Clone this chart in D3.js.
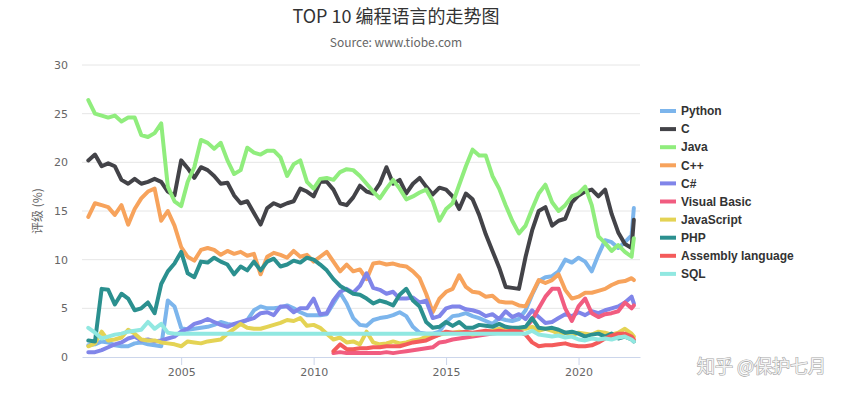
<!DOCTYPE html>
<html>
<head>
<meta charset="utf-8">
<script src="https://cdn.jsdelivr.net/npm/d3@7"></script>
<style>
  body { margin: 0; background: #fff; }
  #chart svg { display: block; }
</style>
</head>
<body>
<div id="chart"></div>
<script>
// quarterly samples (last point = Feb 2022)
const dates = [
    "2001-07", "2001-10",
    "2002-01", "2002-04", "2002-07", "2002-10",
    "2003-01", "2003-04", "2003-07", "2003-10",
    "2004-01", "2004-04", "2004-07", "2004-10",
    "2005-01", "2005-04", "2005-07", "2005-10",
    "2006-01", "2006-04", "2006-07", "2006-10",
    "2007-01", "2007-04", "2007-07", "2007-10",
    "2008-01", "2008-04", "2008-07", "2008-10",
    "2009-01", "2009-04", "2009-07", "2009-10",
    "2010-01", "2010-04", "2010-07", "2010-10",
    "2011-01", "2011-04", "2011-07", "2011-10",
    "2012-01", "2012-04", "2012-07", "2012-10",
    "2013-01", "2013-04", "2013-07", "2013-10",
    "2014-01", "2014-04", "2014-07", "2014-10",
    "2015-01", "2015-04", "2015-07", "2015-10",
    "2016-01", "2016-04", "2016-07", "2016-10",
    "2017-01", "2017-04", "2017-07", "2017-10",
    "2018-01", "2018-04", "2018-07", "2018-10",
    "2019-01", "2019-04", "2019-07", "2019-10",
    "2020-01", "2020-04", "2020-07", "2020-10",
    "2021-01", "2021-04", "2021-07", "2021-10",
    "2022-01", "2022-02"
];

const python = [
    1.2, 1.3,
    1.6, 1.5, 1.2, 1.1,
    1.1, 1.4, 1.5, 1.3,
    1.2, 1.1, 5.8, 5.2,
    3.0, 2.8, 2.9, 3.0,
    3.1, 3.3, 3.6, 3.4,
    3.3, 3.5, 3.8, 4.8,
    5.2, 5.0, 5.0, 5.1,
    5.3, 5.0, 4.6, 4.3,
    4.3, 4.3, 4.4, 5.5,
    6.6, 5.5, 4.0, 3.3,
    3.2, 3.8, 4.0, 4.1,
    4.3, 4.6, 4.2, 3.1,
    2.5, 2.4, 2.4, 2.6,
    3.6, 4.2, 4.3, 4.5,
    4.2, 4.0, 3.7, 3.4,
    4.0, 3.8, 3.7, 3.9,
    4.8, 6.4, 7.8, 8.2,
    8.3, 8.8, 10.0, 9.7,
    10.2, 9.8, 8.8, 10.5,
    12.0, 11.8, 11.2, 11.8,
    12.5, 15.3
];

const cLang = [
    20.2, 20.8,
    19.6, 19.9, 19.6, 18.2,
    17.8, 18.3, 17.8, 18.0,
    18.3, 18.0, 17.0, 16.6,
    20.2, 19.4, 18.4, 19.5,
    19.2, 18.6, 17.8, 17.9,
    16.6, 15.8, 16.0, 14.8,
    13.6, 15.3, 15.8, 15.5,
    15.8, 16.0, 17.3, 17.0,
    16.5, 18.0, 18.0, 17.2,
    15.8, 15.6, 16.4, 17.6,
    17.0, 16.8, 17.8, 19.5,
    17.8, 18.2, 16.8, 17.8,
    18.4, 17.5, 16.7, 17.4,
    17.2, 16.5, 15.2, 16.8,
    16.2, 14.6, 12.6, 10.9,
    9.2, 7.2, 7.1, 7.0,
    10.3, 13.0, 15.0, 15.4,
    13.5, 14.0, 14.2, 15.9,
    16.6, 17.0, 17.2, 16.5,
    17.2, 14.7, 12.8, 11.6,
    11.2, 14.1
];

const java = [
    26.4, 25.0,
    24.8, 24.6, 24.8, 24.2,
    24.6, 24.6, 22.8, 22.6,
    23.0, 24.0, 17.5, 16.0,
    15.5, 18.0, 19.5, 22.3,
    22.0, 21.4, 22.0, 20.2,
    18.8, 19.2, 21.5, 21.0,
    20.8, 21.2, 21.2, 20.5,
    18.6, 19.8, 20.2, 18.0,
    17.3, 18.3, 18.4, 18.2,
    19.0, 19.3, 19.2, 18.6,
    17.8, 17.0, 16.3, 17.3,
    18.2, 17.3, 16.2, 16.5,
    16.9, 17.2, 16.0, 14.0,
    15.2, 15.8, 17.7, 19.6,
    21.3, 20.7, 20.7, 18.6,
    17.3, 15.6, 14.0, 12.7,
    13.5, 15.2, 16.8, 17.7,
    15.9, 15.0, 15.6, 16.5,
    16.8, 17.5, 15.6, 12.4,
    11.7, 10.9, 11.5, 10.8,
    10.3, 12.2
];

const cpp = [
    14.4, 15.8,
    15.6, 15.4, 14.6, 15.6,
    13.6, 15.2, 16.3, 17.0,
    17.3, 14.0, 15.0, 13.5,
    11.3, 10.3, 9.9, 11.0,
    11.2, 11.0, 10.5, 10.9,
    10.6, 10.8, 10.4, 10.6,
    8.5, 10.3, 10.7, 10.5,
    10.2, 10.9, 10.3, 10.5,
    9.8, 10.3, 10.8, 9.8,
    8.8, 9.5, 8.8, 9.0,
    8.0, 9.6, 9.7, 9.5,
    9.6, 9.4, 9.3, 8.8,
    8.1, 6.5, 4.6, 6.0,
    6.7, 7.0, 8.4, 7.2,
    6.7, 6.6, 6.2, 6.3,
    5.7, 5.6, 5.6, 5.3,
    5.2, 6.5, 7.9, 7.6,
    7.9, 8.5, 6.9, 6.0,
    6.2, 6.6, 6.6, 6.8,
    7.0, 7.4, 7.7, 7.8,
    8.1, 7.9
];

const csharp = [
    0.5, 0.5,
    0.7, 1.0, 1.3, 1.5,
    1.9, 2.1, 1.7, 1.8,
    1.6, 1.7, 1.9, 2.1,
    2.6, 2.9, 3.4, 3.6,
    3.9, 3.6, 3.3, 3.1,
    3.4, 3.6, 3.8, 4.0,
    4.5, 4.6, 4.3, 5.2,
    5.2, 4.6, 5.0, 5.0,
    6.0, 4.4, 4.5, 5.8,
    6.7, 7.0, 6.6, 7.3,
    8.6, 7.1, 6.9, 6.5,
    6.7, 6.0, 6.0, 6.1,
    5.6, 5.8, 4.0, 4.2,
    5.0, 5.2, 5.2, 4.9,
    4.8, 4.6, 4.2, 4.4,
    3.9, 4.7, 4.1, 4.4,
    3.9, 4.8, 4.1, 3.5,
    3.6, 4.0, 4.4, 4.2,
    4.6, 4.3, 4.7, 4.5,
    4.8, 5.0, 5.2, 5.6,
    6.2, 5.5
];

const visualBasic = [
    null, null,
    null, null, null, null,
    null, null, null, null,
    null, null, null, null,
    null, null, null, null,
    null, null, null, null,
    null, null, null, null,
    null, null, null, null,
    null, null, null, null,
    null, null, null, 0.4,
    0.5, 0.4, 0.4, 0.4,
    0.4, 0.4, 0.4, 0.5,
    0.4, 0.5, 0.6, 0.7,
    0.8, 0.9, 1.0, 1.5,
    1.6, 1.8, 1.9, 2.0,
    2.1, 2.2, 2.3, 2.4,
    2.5, 2.6, 2.7, 2.8,
    3.0, 3.8, 5.0, 6.2,
    7.0, 7.0, 5.0, 3.7,
    5.2, 6.0, 4.5, 4.1,
    4.4, 4.5, 4.7, 5.6,
    5.0, 5.3
];

const javascript = [
    1.1, 1.4,
    2.6, 1.7, 1.8, 2.0,
    2.8, 2.4, 1.8, 1.7,
    1.7, 1.5, 1.4, 1.3,
    1.1, 1.6, 1.5, 1.4,
    1.6, 1.7, 1.8, 2.4,
    2.9, 3.4, 3.0, 2.9,
    2.9, 3.1, 3.3, 3.5,
    3.8, 3.7, 4.0, 3.2,
    3.3, 3.0, 2.4, 1.8,
    2.0, 1.5, 1.6, 1.3,
    2.6, 1.5, 1.3, 1.4,
    1.6, 1.4, 1.5, 1.7,
    1.8, 2.1, 2.1, 2.3,
    2.4, 2.5, 2.6, 2.5,
    2.3, 2.4, 2.6, 2.7,
    2.9, 2.8, 2.8, 3.0,
    2.9, 3.1, 2.7, 2.9,
    2.7, 2.4, 2.5, 2.2,
    2.5, 2.4, 2.3, 2.6,
    2.5, 2.3, 2.5, 2.9,
    2.4, 2.1
];

const php = [
    1.7, 1.6,
    7.0, 6.9, 5.4, 6.5,
    6.0, 4.8, 5.0, 5.6,
    4.5, 7.5, 8.8, 9.6,
    10.8, 8.6, 8.2, 9.8,
    9.7, 10.2, 9.8, 9.5,
    8.5, 9.3, 8.9, 9.8,
    8.9, 9.8, 10.1, 9.3,
    9.5, 9.9, 9.7, 10.2,
    10.0, 9.5, 8.9, 8.0,
    7.3, 6.9, 6.5, 6.4,
    6.0, 5.5, 5.8, 5.6,
    5.3, 6.4, 7.0, 5.8,
    5.2, 3.6, 3.0, 3.1,
    3.6, 3.2, 3.6, 3.0,
    3.0, 3.3, 3.2, 3.1,
    3.4, 3.1, 3.0, 3.0,
    3.1, 4.0, 3.0, 2.9,
    3.0, 2.8, 2.5, 2.6,
    2.4, 2.1, 2.3, 2.4,
    2.1, 2.4, 1.9, 2.1,
    1.8, 1.6
];

const assembly = [
    null, null,
    null, null, null, null,
    null, null, null, null,
    null, null, null, null,
    null, null, null, null,
    null, null, null, null,
    null, null, null, null,
    null, null, null, null,
    null, null, null, null,
    null, null, null, 0.6,
    1.3, 0.8, 0.8, 0.9,
    0.9, 1.0, 1.0, 1.1,
    1.1, 1.1, 1.3, 1.5,
    1.6, 1.7, 2.0, 2.3,
    2.6, 2.5, 2.5, 2.6,
    2.5, 2.6, 2.7, 2.6,
    2.7, 2.6, 2.7, 2.6,
    2.3, 1.5, 1.1, 1.2,
    1.2, 1.3, 1.4, 1.2,
    1.1, 1.1, 1.2, 1.5,
    1.9, 2.2, 2.4, 2.4,
    2.1, 1.8
];

const sql = [
    3.0, 2.5,
    1.9, 2.1, 2.3, 2.4,
    2.6, 2.7, 2.8, 3.6,
    2.9, 3.4, 2.5, 2.4,
    2.4, 2.4, 2.4, 2.4,
    2.4, 2.4, 2.4, 2.4,
    2.4, 2.4, 2.4, 2.4,
    2.4, 2.4, 2.4, 2.4,
    2.4, 2.4, 2.4, 2.4,
    2.4, 2.4, 2.4, 2.4,
    2.4, 2.4, 2.4, 2.4,
    2.4, 2.4, 2.4, 2.4,
    2.4, 2.4, 2.4, 2.4,
    2.4, 2.4, 2.4, 2.4,
    2.4, 2.4, 2.4, 2.4,
    2.4, 2.4, 2.4, 2.4,
    2.4, 2.4, 2.4, 2.4,
    2.4, 2.7, 2.3, 2.2,
    2.1, 2.2, 2.0, 2.1,
    1.8, 1.7, 1.9, 1.8,
    1.9, 1.8, 2.0, 2.1,
    1.8, 1.6
];

const seriesNames = ["Python", "C", "Java", "C++", "C#", "Visual Basic", "JavaScript", "PHP", "Assembly language", "SQL"];
const seriesValues = [python, cLang, java, cpp, csharp, visualBasic, javascript, php, assembly, sql];
const seriesColors = ["#7cb5ec", "#434348", "#90ed7d", "#f7a35c", "#8085e9", "#f15c80", "#e4d354", "#2b908f", "#f45b5b", "#91e8e1"];

const yTicks = [0, 5, 10, 15, 20, 25, 30];
const xTickYears = [2005, 2010, 2015, 2020];

function drawChart() {
    const width = 848, height = 398;
    const margin = { top: 65, right: 208, bottom: 41, left: 82 };
    const plotW = width - margin.left - margin.right;
    const plotH = height - margin.top - margin.bottom;

    const parse = d3.timeParse("%Y-%m");
    const times = dates.map(parse);

    const svg = d3.select("#chart").append("svg")
        .attr("width", width)
        .attr("height", height);

    // titles
    svg.append("text")
        .attr("x", 396).attr("y", 23)
        .attr("text-anchor", "middle")
        .style("font-family", "'Noto Sans CJK SC', sans-serif")
        .style("font-size", "18px")
        .style("fill", "#333")
        .text("TOP 10 编程语言的走势图");

    svg.append("text")
        .attr("x", 396).attr("y", 47)
        .attr("text-anchor", "middle")
        .style("font-family", "'Noto Sans CJK SC', sans-serif")
        .style("font-size", "12px")
        .style("fill", "#666")
        .text("Source: www.tiobe.com");

    const g = svg.append("g")
        .attr("transform", `translate(${margin.left}, ${margin.top})`);

    const x = d3.scaleTime()
        .domain([new Date(2001, 3, 5), new Date(2022, 3, 27)])
        .range([0, plotW]);

    const y = d3.scaleLinear()
        .domain([0, 30])
        .range([plotH, 0]);

    // grid lines
    g.append("g")
        .selectAll("line")
        .data(yTicks.filter(v => v > 0))
        .enter().append("line")
        .attr("x1", 0).attr("x2", plotW)
        .attr("y1", d => y(d)).attr("y2", d => y(d))
        .style("stroke", "#e6e6e6");

    // y axis labels
    const yAxis = g.append("g")
        .call(d3.axisLeft(y).tickValues(yTicks).tickSize(0).tickPadding(14));
    yAxis.select(".domain").remove();
    yAxis.selectAll("text")
        .style("font-family", "'DejaVu Sans', sans-serif")
        .style("font-size", "11px")
        .style("fill", "#666");

    g.append("text")
        .attr("transform", `translate(${38 - margin.left}, ${plotH / 2}) rotate(-90)`)
        .attr("text-anchor", "middle")
        .attr("dy", "0.35em")
        .style("font-family", "'Noto Sans CJK SC', sans-serif")
        .style("font-size", "12px")
        .style("fill", "#666")
        .text("评级 (%)");

    // x axis
    const xAxis = g.append("g")
        .attr("transform", `translate(0, ${plotH})`)
        .call(d3.axisBottom(x)
            .tickValues(xTickYears.map(yr => new Date(yr, 0, 1)))
            .tickFormat(d3.timeFormat("%Y"))
            .tickSize(8)
            .tickSizeOuter(0));
    xAxis.select(".domain").style("stroke", "#ccd6eb");
    xAxis.selectAll(".tick line").style("stroke", "#ccd6eb");
    xAxis.selectAll("text")
        .attr("y", 11)
        .style("font-family", "'DejaVu Sans', sans-serif")
        .style("font-size", "11px")
        .style("fill", "#666");

    // series
    const line = d3.line()
        .defined(d => d.v != null)
        .x(d => x(d.t))
        .y(d => y(d.v));

    seriesValues.forEach((vals, i) => {
        const pts = vals.map((v, j) => ({ t: times[j], v: v }));
        g.append("path")
            .datum(pts)
            .attr("d", line)
            .style("fill", "none")
            .style("stroke", seriesColors[i])
            .style("stroke-width", 4)
            .style("stroke-linejoin", "round")
            .style("stroke-linecap", "round");
    });

    // legend
    const legend = svg.append("g")
        .attr("transform", "translate(660, 111)");

    const item = legend.selectAll("g")
        .data(seriesNames)
        .enter().append("g")
        .attr("transform", (d, i) => `translate(0, ${i * 18.1})`);

    item.append("line")
        .attr("x1", 0).attr("x2", 16)
        .attr("y1", 0).attr("y2", 0)
        .style("stroke", (d, i) => seriesColors[i])
        .style("stroke-width", 4);

    item.append("text")
        .attr("x", 21)
        .attr("dy", "0.35em")
        .style("font-family", "'Liberation Sans', Arial, sans-serif")
        .style("font-size", "12px")
        .style("font-weight", "bold")
        .style("fill", "#333")
        .text(d => d);

    // watermark: light text with a soft grey edge
    svg.append("text")
        .attr("x", 826).attr("y", 373)
        .attr("text-anchor", "end")
        .style("font-family", "'Noto Sans CJK SC', sans-serif")
        .style("font-size", "18px")
        .style("fill", "#f4f4f4")
        .style("stroke", "#a8a8a8")
        .style("stroke-width", 1.2)
        .style("paint-order", "stroke")
        .text("知乎 @保护七月");
}

drawChart();
</script>
</body>
</html>
